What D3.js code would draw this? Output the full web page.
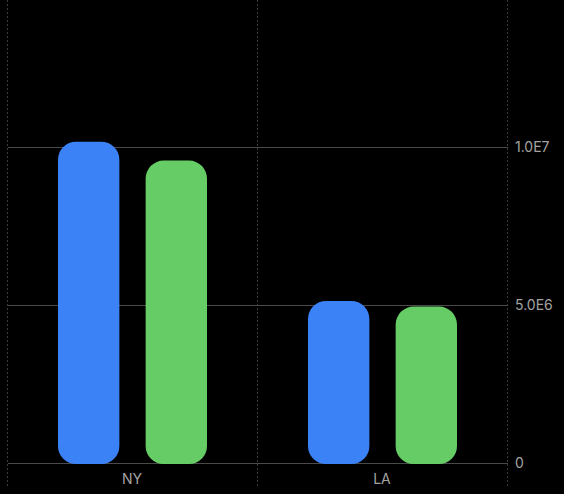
<!DOCTYPE html>
<html>
<head>
<meta charset="utf-8">
<script src="https://cdn.jsdelivr.net/npm/d3@7"></script>
<style>
  html, body { margin: 0; padding: 0; background: #000; }
  svg { display: block; }
  text { font-family: Inter, "Noto Sans", sans-serif; }
</style>
</head>
<body>
<svg id="chart"></svg>
<script>
// data
const cities = ["NY", "LA"];
const seriesNames = ["blue", "green"];
const blueValues = [10170000, 5130000];
const greenValues = [9570000, 4950000];
const yTicks = [0, 5000000, 10000000];

const width = 564, height = 494;
const colors = { blue: "#3b82f6", green: "#66cd66" };

const svg = d3.select("#chart")
    .attr("width", width)
    .attr("height", height);

const x = d3.scaleBand()
    .domain(cities)
    .range([8, 508]);

const xInner = d3.scaleBand()
    .domain(seriesNames)
    .range([50, 199])
    .paddingInner(0.3);

const y = d3.scaleLinear()
    .domain([0, 10000000])
    .range([463, 147]);

const fmt = d => d === 0 ? "0" : d.toExponential(1).toUpperCase().replace("+", "");

// vertical dashed lines at group boundaries
const vLines = cities.map(c => x(c)).concat([x(cities[cities.length - 1]) + x.bandwidth()]);
svg.selectAll(".vline")
    .data(vLines)
    .enter().append("line")
    .attr("class", "vline")
    .attr("x1", d => d - 0.5).attr("x2", d => d - 0.5)
    .attr("y1", 0).attr("y2", 488)
    .attr("stroke", "#3c3c3c")
    .attr("stroke-width", 1)
    .attr("stroke-dasharray", "2,2");

// horizontal grid
svg.selectAll(".hline")
    .data(yTicks)
    .enter().append("line")
    .attr("class", "hline")
    .attr("x1", 8).attr("x2", 508)
    .attr("y1", d => y(d) + 0.5).attr("y2", d => y(d) + 0.5)
    .attr("stroke", "#4a4a4a")
    .attr("stroke-width", 1);

// y tick labels on right
svg.selectAll(".ylabel")
    .data(yTicks)
    .enter().append("text")
    .attr("class", "ylabel")
    .attr("x", 515)
    .attr("y", d => y(d))
    .attr("dy", "0.35em")
    .attr("fill", "#a3a3a3")
    .style("font-size", "14px")
    .text(fmt);

// bars
const rows = cities.map((c, i) => ({
    city: c,
    values: [
        { key: "blue", value: blueValues[i] },
        { key: "green", value: greenValues[i] }
    ]
}));

const groups = svg.selectAll(".group")
    .data(rows)
    .enter().append("g")
    .attr("class", "group")
    .attr("transform", d => `translate(${x(d.city)},0)`);

groups.selectAll("rect")
    .data(d => d.values)
    .enter().append("rect")
    .attr("x", d => xInner(d.key))
    .attr("width", xInner.bandwidth())
    .attr("y", d => y(d.value))
    .attr("height", d => y(0) - y(d.value) + 1)
    .attr("rx", 18)
    .attr("fill", d => colors[d.key]);

// x labels
svg.selectAll(".xlabel")
    .data(cities)
    .enter().append("text")
    .attr("class", "xlabel")
    .attr("x", d => x(d) + x.bandwidth() / 2 - 1)
    .attr("y", 479)
    .attr("dy", "0.35em")
    .attr("text-anchor", "middle")
    .attr("fill", "#a3a3a3")
    .style("font-size", "14px")
    .text(d => d);
</script>
</body>
</html>
